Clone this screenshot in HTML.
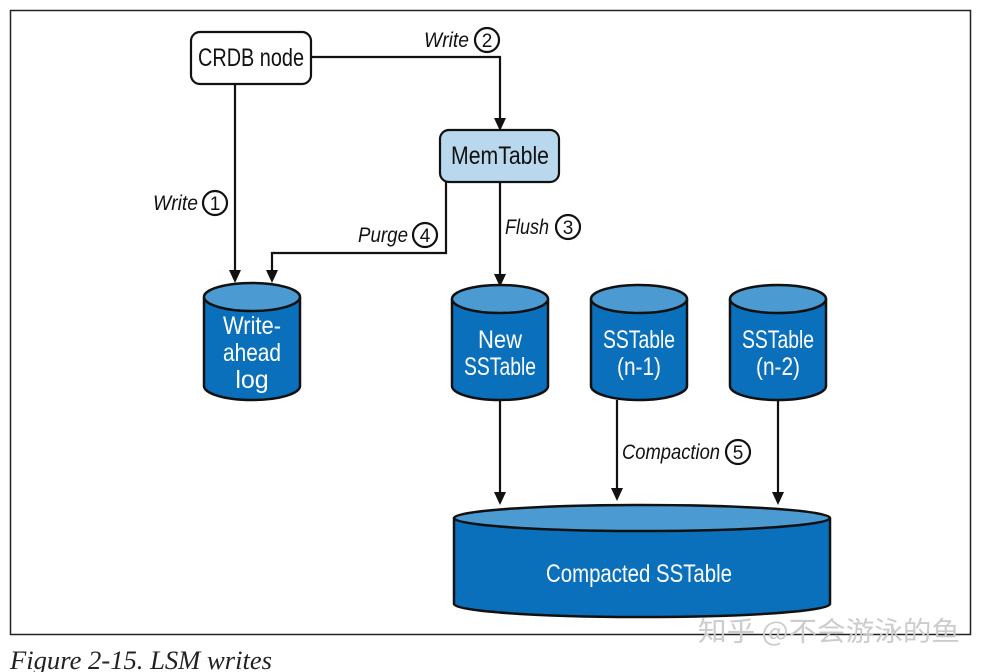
<!DOCTYPE html>
<html><head><style>
body{margin:0;background:#fff;width:984px;height:672px;overflow:hidden}
svg{display:block}
.t{font-family:"Liberation Sans",sans-serif}
</style></head><body>
<svg width="984" height="672" viewBox="0 0 984 672" xmlns="http://www.w3.org/2000/svg">
<rect x="10.5" y="10.5" width="960" height="624" fill="#fff" stroke="#222" stroke-width="1.5"/>
<g stroke="#111" stroke-width="2.2" fill="none">
<path d="M235 84 V272"/>
<path d="M311 57 H500 V120"/>
<path d="M446 182 V253 H272 V272"/>
<path d="M500 182 V276"/>
<path d="M500 400 V494"/>
<path d="M617 400 V490"/>
<path d="M778 400 V494"/>
</g>
<g fill="#111">
<path d="M229 270 L241 270 L235 283 Z"/>
<path d="M266 270 L278 270 L272 283 Z"/>
<path d="M494 118 L506 118 L500 131 Z"/>
<path d="M494 274 L506 274 L500 287 Z"/>
<path d="M494 492 L506 492 L500 505 Z"/>
<path d="M611 488 L623 488 L617 501 Z"/>
<path d="M772 492 L784 492 L778 505 Z"/>
</g>
<rect x="191" y="32" width="120" height="52" rx="9" fill="#fff" stroke="#111" stroke-width="2.2"/>
<text x="251" y="66" text-anchor="middle" class="t" font-size="25" fill="#111" textLength="106" lengthAdjust="spacingAndGlyphs">CRDB node</text>
<rect x="440" y="130" width="119" height="52" rx="9" fill="#b9d8ee" stroke="#111" stroke-width="2.2"/>
<text x="500" y="164" text-anchor="middle" class="t" font-size="25" fill="#111" textLength="98" lengthAdjust="spacingAndGlyphs">MemTable</text>
<g stroke="#111" stroke-width="2.5">
<path d="M204 297 V386 A48 14 0 0 0 300 386 V297" fill="#0a70bc"/>
<ellipse cx="252" cy="297" rx="48" ry="14" fill="#4b9ad2"/>
<path d="M452 299 V386 A48 14 0 0 0 548 386 V299" fill="#0a70bc"/>
<ellipse cx="500" cy="299" rx="48" ry="14" fill="#4b9ad2"/>
<path d="M591 299 V386 A48 14 0 0 0 687 386 V299" fill="#0a70bc"/>
<ellipse cx="639" cy="299" rx="48" ry="14" fill="#4b9ad2"/>
<path d="M730 299 V386 A48 14 0 0 0 826 386 V299" fill="#0a70bc"/>
<ellipse cx="778" cy="299" rx="48" ry="14" fill="#4b9ad2"/>
<path d="M454 518 V604 A188 13 0 0 0 830 604 V518" fill="#0a70bc"/>
<ellipse cx="642" cy="518" rx="188" ry="13" fill="#4b9ad2"/>
</g>
<g class="t" fill="#fff" font-size="25" text-anchor="middle">
<text x="252" y="334" textLength="58" lengthAdjust="spacingAndGlyphs">Write-</text><text x="252" y="361" textLength="58" lengthAdjust="spacingAndGlyphs">ahead</text><text x="252" y="388">log</text>
<text x="500" y="348" textLength="44" lengthAdjust="spacingAndGlyphs">New</text><text x="500" y="375" textLength="72" lengthAdjust="spacingAndGlyphs">SSTable</text>
<text x="639" y="348" textLength="72" lengthAdjust="spacingAndGlyphs">SSTable</text><text x="639" y="375" textLength="44" lengthAdjust="spacingAndGlyphs">(n-1)</text>
<text x="778" y="348" textLength="72" lengthAdjust="spacingAndGlyphs">SSTable</text><text x="778" y="375" textLength="44" lengthAdjust="spacingAndGlyphs">(n-2)</text>
<text x="639" y="582" textLength="186" lengthAdjust="spacingAndGlyphs">Compacted SSTable</text>
</g>
<g class="t" fill="#111" font-size="21" font-style="italic">
<text x="153" y="210" textLength="45" lengthAdjust="spacingAndGlyphs">Write</text>
<text x="424" y="47" textLength="45" lengthAdjust="spacingAndGlyphs">Write</text>
<text x="358" y="242" textLength="50" lengthAdjust="spacingAndGlyphs">Purge</text>
<text x="505" y="234" textLength="44" lengthAdjust="spacingAndGlyphs">Flush</text>
<text x="622" y="459" textLength="98" lengthAdjust="spacingAndGlyphs">Compaction</text>
</g>
<g stroke="#111" stroke-width="2.2" fill="#fff">
<circle cx="215" cy="203" r="12"/><circle cx="487" cy="40" r="12"/><circle cx="425" cy="235" r="12"/><circle cx="568" cy="227" r="12"/><circle cx="738" cy="452" r="12"/>
</g>
<g class="t" fill="#111" font-size="19" text-anchor="middle">
<text x="215" y="210">1</text><text x="487" y="47">2</text><text x="425" y="242">4</text><text x="568" y="234">3</text><text x="738" y="459">5</text>
</g>
<text x="698" y="641" font-family="'Noto Sans CJK SC',sans-serif" font-size="27" fill="#ccc" textLength="262" lengthAdjust="spacingAndGlyphs">知乎 @不会游泳的鱼</text>
<text x="10" y="669" font-family="'Liberation Serif',serif" font-style="italic" font-size="26" fill="#222" textLength="262" lengthAdjust="spacingAndGlyphs">Figure 2-15. LSM writes</text>
</svg>
</body></html>
